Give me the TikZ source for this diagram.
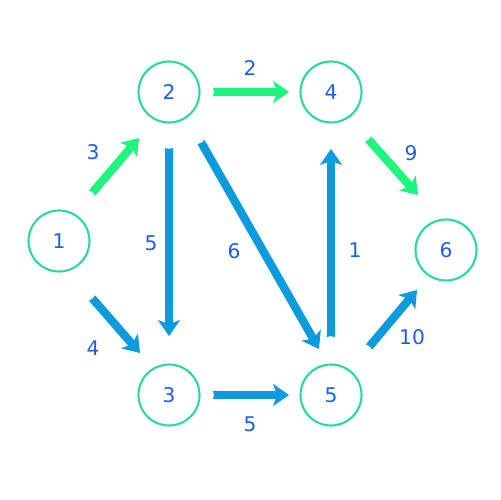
\documentclass[tikz,border=0pt]{standalone}
\usepackage{fontspec}
\setmainfont{DejaVu Sans}
\usetikzlibrary{arrows.meta,calc}
\definecolor{ring}{RGB}{40,218,160}
\definecolor{txt}{RGB}{28,95,230}
\definecolor{garr}{RGB}{30,245,125}
\definecolor{barr}{RGB}{12,155,222}
\begin{document}
\begin{tikzpicture}[x=0.02cm,y=-0.02cm,
  vert/.style={circle,draw=ring,line width=1.2pt,minimum size=1.22cm,inner sep=0pt,text=txt,font=\fontsize{11.5pt}{13pt}\selectfont},
  lbl/.style={text=txt,font=\fontsize{11.5pt}{13pt}\selectfont,inner sep=0pt},
  arr/.style={line width=0.165cm,{Triangle Cap[reversed,length=0.5]}-{Stealth[length=9pt,width=12.5pt,inset=2.2pt]}},
  garrow/.style={arr,draw=garr},
  barrow/.style={arr,draw=barr}]
\useasboundingbox (0,0) rectangle (500,500);
\node[vert] (n1) at (59,241) {1};
\node[vert] (n2) at (169,92) {2};
\node[vert] (n3) at (169,395) {3};
\node[vert] (n4) at (331,92) {4};
\node[vert] (n5) at (331,395) {5};
\node[vert] (n6) at (446,250) {6};
\draw[garrow] ($(n1)+(33,-48)$) -- ($(n2)+(-30,46)$);
\draw[barrow] ($(n1)+(33,57)$) -- ($(n3)+(-29,-42)$);
\draw[garrow] ($(n2)+(44,0)$) -- ($(n4)+(-42,0)$);
\draw[barrow] ($(n2)+(0,56)$) -- ($(n3)+(0,-59)$);
\draw[barrow] ($(n2)+(32,50)$) -- ($(n5)+(-12,-46)$);
\draw[barrow] ($(n5)+(0,-58)$) -- ($(n4)+(0,57)$);
\draw[barrow] ($(n3)+(44,0)$) -- ($(n5)+(-42,0)$);
\draw[garrow] ($(n4)+(37,47)$) -- ($(n6)+(-28,-55)$);
\draw[barrow] ($(n5)+(38,-48)$) -- ($(n6)+(-29,40)$);
\node[lbl] (l24) at (250,68) {2};
\node[lbl] (l12) at (93,152) {3};
\node[lbl] (l23) at (151,243) {5};
\node[lbl] (l25) at (234,251) {6};
\node[lbl] (l54) at (355,250) {1};
\node[lbl] (l46) at (411,153) {9};
\node[lbl] (l13) at (93,348) {4};
\node[lbl] (l56) at (412,337) {10};
\node[lbl] (l35) at (250,424) {5};
\end{tikzpicture}
\end{document}
